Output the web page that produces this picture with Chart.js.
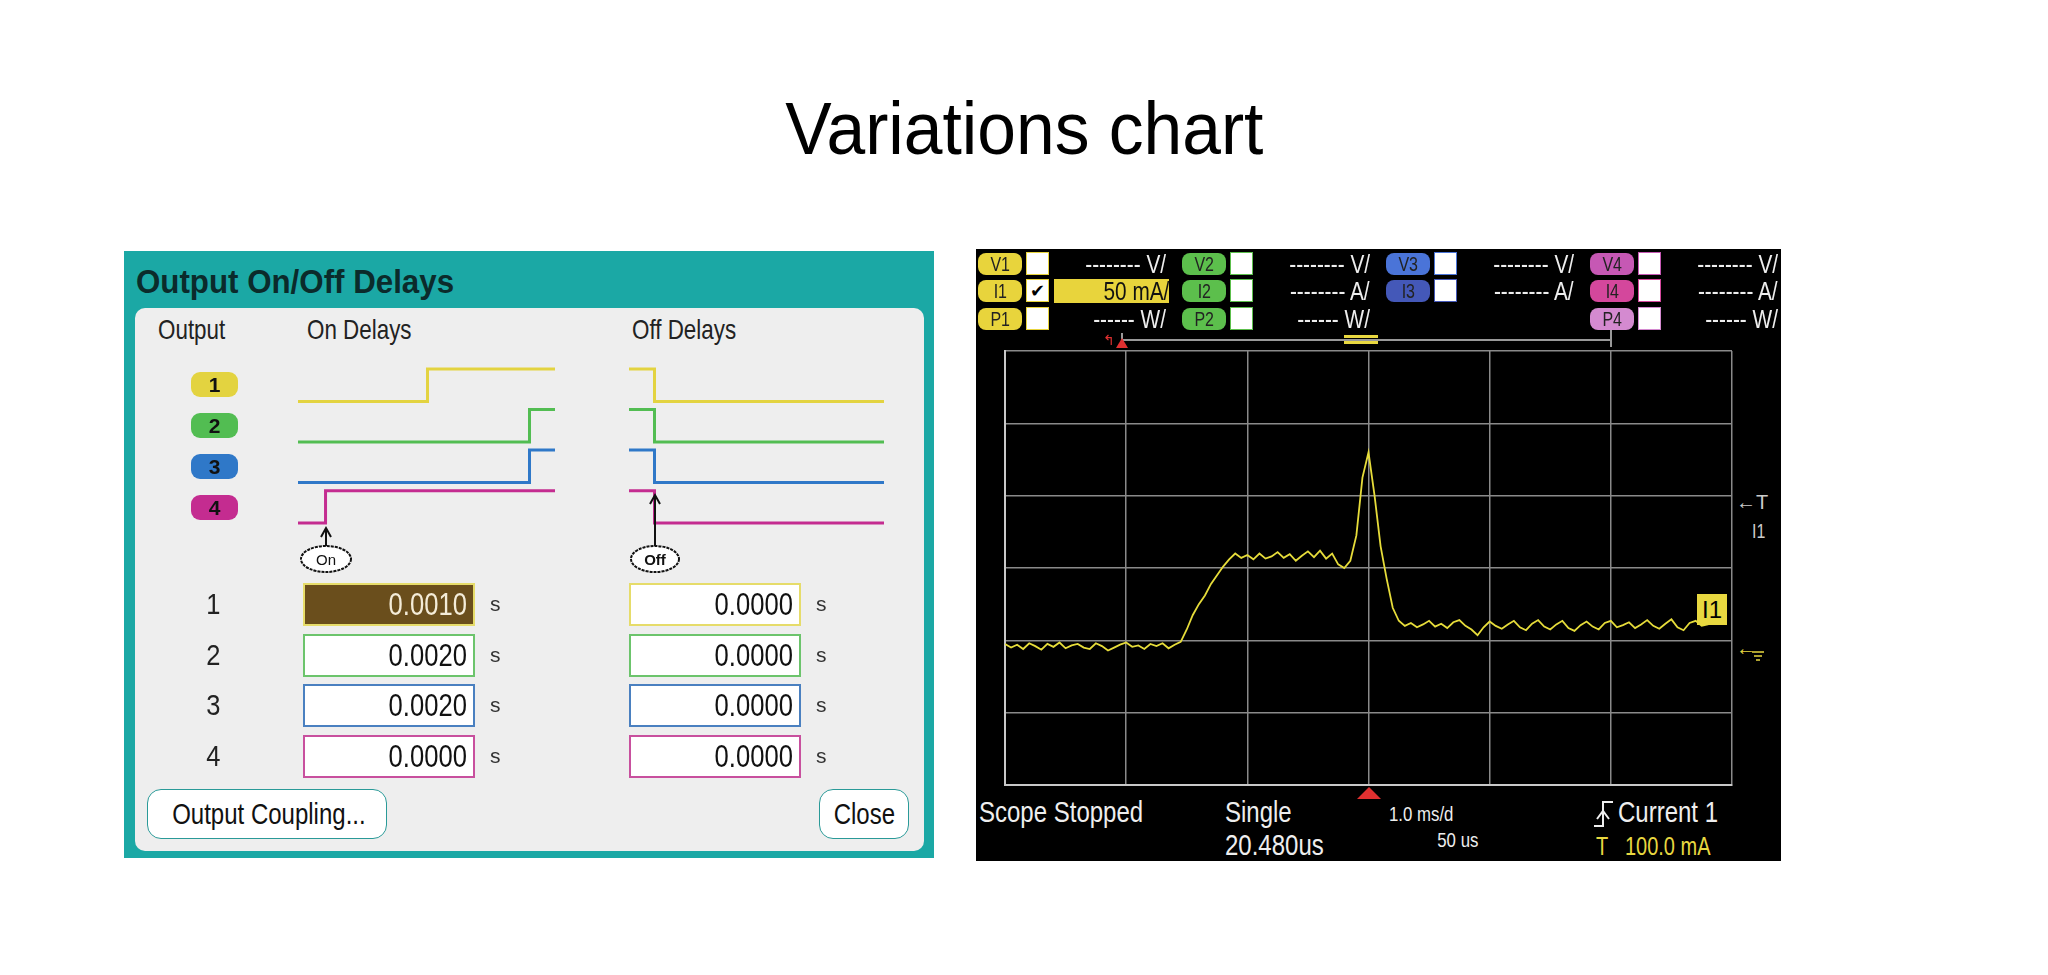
<!DOCTYPE html>
<html>
<head>
<meta charset="utf-8">
<script src="https://cdn.jsdelivr.net/npm/chart.js@4/dist/chart.umd.min.js"></script>
<style>
body{margin:0;width:2048px;height:975px;background:#fff;position:relative;overflow:hidden;font-family:"Liberation Sans",Arial,sans-serif}
.a{position:absolute;white-space:nowrap}
.n{display:inline-block;transform:scaleX(.8);transform-origin:left center}
.r{display:inline-block;transform:scaleX(.8);transform-origin:right center}
canvas{position:absolute}
</style>
</head>
<body>
<div class="a" style="left:0;width:2048px;top:84px;height:90px;line-height:90px;text-align:center;font-size:74px;color:#000"><span style="display:inline-block;transform:scaleX(.94)">Variations chart</span></div>

<!-- dialog -->
<div class="a" style="left:124px;top:251px;width:810px;height:607px;background:#1ba8a5"></div>
<div class="a" style="left:135px;top:308px;width:789px;height:543px;background:#eeeeee;border-radius:10px"></div>
<div class="a" style="left:136px;top:263px;line-height:36px;font-size:34px;font-weight:bold;color:#0b2b2b"><span class="n" style="transform:scaleX(.92)">Output On/Off Delays</span></div>
<div class="a" style="left:158px;top:314px;line-height:32px;font-size:28px;color:#222"><span class="n">Output</span></div>
<div class="a" style="left:307px;top:314px;line-height:32px;font-size:28px;color:#222"><span class="n">On Delays</span></div>
<div class="a" style="left:632px;top:314px;line-height:32px;font-size:28px;color:#222"><span class="n">Off Delays</span></div>
<canvas id="onChart" width="257" height="170" style="left:298px;top:360px"></canvas>
<canvas id="offChart" width="255" height="170" style="left:629px;top:360px"></canvas>
<div class="a" style="left:147px;top:789px;width:238px;height:48px;border:1.5px solid #2a9a98;border-radius:14px;background:#fff;line-height:48px;font-size:30px;color:#111;text-align:center"><span class="n" style="transform-origin:center">Output Coupling...</span></div>
<div class="a" style="left:819px;top:789px;width:88px;height:48px;border:1.5px solid #2a9a98;border-radius:14px;background:#fff;line-height:48px;font-size:30px;color:#111;text-align:center"><span class="n" style="transform-origin:center">Close</span></div>

<!-- scope -->
<div class="a" style="left:976px;top:249px;width:805px;height:612px;background:#000"></div>
<canvas id="scopeChart" width="729" height="436" style="left:1004px;top:350px"></canvas>
<div class="a" style="left:979px;top:795px;line-height:34px;font-size:30px;color:#eee"><span class="n">Scope Stopped</span></div>
<div class="a" style="left:1225px;top:795px;line-height:34px;font-size:30px;color:#eee"><span class="n">Single</span></div>
<div class="a" style="left:1225px;top:828px;line-height:34px;font-size:30px;color:#eee"><span class="n">20.480us</span></div>
<div class="a" style="left:1389px;top:802px;line-height:24px;font-size:21px;color:#eee"><span class="n">1.0 ms/d</span></div>
<div class="a" style="left:1378px;width:100px;top:828px;line-height:24px;font-size:21px;color:#eee;text-align:right"><span class="r">50 us</span></div>
<div class="a" style="left:1618px;top:795px;line-height:34px;font-size:30px;color:#eee"><span class="n">Current 1</span></div>
<div class="a" style="left:1596px;top:832px;line-height:28px;font-size:25px;color:#e8d840"><span class="n">T&nbsp;&nbsp;&nbsp;100.0 mA</span></div>
<div class="a" style="left:1736px;top:490px;line-height:24px;font-size:20px;color:#ccc">←T</div>
<div class="a" style="left:1752px;top:519px;line-height:24px;font-size:20px;color:#ccc"><span class="n">I1</span></div>
<div class="a" style="left:1736px;top:636px;line-height:24px;font-size:20px;color:#e8d840">←</div>
<div class="a" style="left:1697px;top:594px;width:30px;height:31px;background:#e8d840;line-height:31px;font-size:24px;color:#000;text-align:center">I1</div>

<svg class="a" style="left:0;top:0" width="2048" height="975">
  <g stroke="#111" stroke-width="2" fill="none">
    <line x1="326" y1="530" x2="326" y2="546"/><polyline points="321,537 326,528 331,537"/>
    <line x1="655" y1="497" x2="655" y2="546"/><polyline points="650,504 655,495 660,504"/>
    <ellipse cx="326" cy="559" rx="25" ry="13" fill="#fff" stroke-dasharray="3,1"/>
    <ellipse cx="655" cy="559" rx="24" ry="13" fill="#fff" stroke-dasharray="3,1"/>
  </g>
  <text x="326" y="565" font-size="15" text-anchor="middle" fill="#111">On</text>
  <text x="655" y="565" font-size="15" text-anchor="middle" fill="#111" font-weight="bold">Off</text>
  <g stroke="#999" stroke-width="2">
    <line x1="1122" y1="340" x2="1611" y2="340"/>
    <line x1="1122" y1="333" x2="1122" y2="347"/>
    <line x1="1611" y1="320" x2="1611" y2="347"/>
  </g>
  <rect x="1344" y="335" width="34" height="3" fill="#e8d840"/>
  <rect x="1344" y="341" width="34" height="3" fill="#e8d840"/>
  <polygon points="1116,348 1122,338 1128,348" fill="#e03030"/>
  <text x="1103" y="345" font-size="14" fill="#e03030">↰</text>
  <polygon points="1357,799 1369,787 1381,799" fill="#e03030"/>
  <polyline points="1594,826 1603,826 1603,802 1613,802" stroke="#eee" stroke-width="2" fill="none"/>
  <polyline points="1597,819 1603,811 1609,819" stroke="#eee" stroke-width="2" fill="none"/>
  <g stroke="#e8d840" stroke-width="1.5">
    <line x1="1752" y1="652" x2="1764" y2="652"/><line x1="1754" y1="656" x2="1762" y2="656"/><line x1="1756" y1="660" x2="1760" y2="660"/>
  </g>
</svg>

<script>
// dialog data
const outputs = ["1", "2", "3", "4"];
const outColors = ["#e3d340", "#52bd52", "#2f78c8", "#c42c90"];
const boxBorders = ["#e6dc6a", "#6cc46c", "#4a80c0", "#c8509e"];
const onDelays = [0.001, 0.002, 0.002, 0.0];
const offDelays = [0.0, 0.0, 0.0, 0.0];
const badgeY = [384, 425, 466, 507];
const rowY = [604, 655, 705, 756];

// scope trace: time (div) and current (div from bottom)
const times = [
    0, 0.05, 0.1, 0.15, 0.2, 0.25, 0.3, 0.35, 0.4, 0.45,
    0.5, 0.55, 0.6, 0.65, 0.7, 0.75, 0.8, 0.85, 0.9, 0.95,
    1.0, 1.05, 1.1, 1.15, 1.2, 1.25, 1.3, 1.35, 1.4, 1.45,
    1.5, 1.55, 1.6, 1.65, 1.7, 1.75, 1.8, 1.85, 1.9, 1.95,
    2.0, 2.05, 2.1, 2.15, 2.2, 2.25, 2.3, 2.35, 2.4, 2.45,
    2.5, 2.55, 2.6, 2.65, 2.7, 2.75, 2.8, 2.85, 2.9, 2.95,
    3.0, 3.05, 3.1, 3.15, 3.2, 3.25, 3.3, 3.35, 3.4, 3.45,
    3.5, 3.55, 3.6, 3.65, 3.7, 3.75, 3.8, 3.85, 3.9, 3.95,
    4.0, 4.05, 4.1, 4.15, 4.2, 4.25, 4.3, 4.35, 4.4, 4.45,
    4.5, 4.55, 4.6, 4.65, 4.7, 4.75, 4.8, 4.85, 4.9, 4.95,
    5.0, 5.05, 5.1, 5.15, 5.2, 5.25, 5.3, 5.35, 5.4, 5.45,
    5.5, 5.55, 5.6, 5.65, 5.7, 5.75, 5.8, 5.85, 5.9, 5.95
];
const current = [
    1.95, 1.90, 1.94, 1.88, 1.96, 1.92, 1.87, 1.95, 1.91, 1.97,
    1.89, 1.93, 1.95, 1.90, 1.88, 1.96, 1.92, 1.86, 1.90, 1.94,
    1.97, 1.91, 1.93, 1.88, 1.95, 1.92, 1.96, 1.89, 1.94, 1.98,
    2.15, 2.35, 2.50, 2.62, 2.78, 2.90, 3.02, 3.12, 3.20, 3.14,
    3.18, 3.12, 3.20, 3.13, 3.16, 3.22, 3.14, 3.19, 3.10, 3.17,
    3.23, 3.15, 3.24, 3.13, 3.20, 3.05, 3.00, 3.10, 3.45, 4.25,
    4.60, 4.00, 3.30, 2.85, 2.45, 2.27, 2.20, 2.24, 2.18, 2.22,
    2.27, 2.19, 2.23, 2.17, 2.25, 2.28, 2.20, 2.15, 2.07, 2.18,
    2.26, 2.20, 2.16, 2.22, 2.27, 2.18, 2.14, 2.23, 2.28, 2.19,
    2.15, 2.22, 2.27, 2.17, 2.13, 2.21, 2.26, 2.19, 2.15, 2.24,
    2.27, 2.18, 2.21, 2.25, 2.17, 2.22, 2.28, 2.20, 2.16, 2.23,
    2.29, 2.18, 2.14, 2.24, 2.27, 2.20, 2.22, 2.25, 2.23, 2.26
];

function el(html) {
    const d = document.createElement("div");
    d.innerHTML = html;
    document.body.appendChild(d.firstElementChild);
}

outputs.forEach((o, i) => {
    el(`<div class="a" style="left:191px;top:${badgeY[i] - 12}px;width:47px;height:25px;border-radius:9px;background:${outColors[i]};text-align:center;line-height:25px;font-size:21px;font-weight:bold;color:#111">${o}</div>`);
    el(`<div class="a" style="left:203px;top:${rowY[i] - 17}px;width:20px;text-align:center;line-height:34px;font-size:30px;color:#222"><span class="n" style="transform:scaleX(.85);transform-origin:center">${o}</span></div>`);
    const sel = i === 0;
    el(`<div class="a" style="left:303px;top:${rowY[i] - 21}px;width:168px;height:39px;border:2px solid ${boxBorders[i]};background:${sel ? "#6a4e1c" : "#fff"};text-align:right;line-height:39px;font-size:32px;color:${sel ? "#f4ecd8" : "#111"}"><span class="r" style="margin-right:6px">${onDelays[i].toFixed(4)}</span></div>`);
    el(`<div class="a" style="left:629px;top:${rowY[i] - 21}px;width:168px;height:39px;border:2px solid ${boxBorders[i]};background:#fff;text-align:right;line-height:39px;font-size:32px;color:#111"><span class="r" style="margin-right:6px">${offDelays[i].toFixed(4)}</span></div>`);
    el(`<div class="a" style="left:490px;top:${rowY[i] - 12}px;line-height:24px;font-size:21px;color:#333">s</div>`);
    el(`<div class="a" style="left:816px;top:${rowY[i] - 12}px;line-height:24px;font-size:21px;color:#333">s</div>`);
});

// scope header
const hdrCols = [978, 1182, 1386, 1590];
const hdrRows = [264, 291, 319];
const hdrCells = [
    [["V1", "#e8d43c"], ["V2", "#5cbf4c"], ["V3", "#4a74d8"], ["V4", "#c658b4"]],
    [["I1", "#e8d43c"], ["I2", "#5cbf4c"], ["I3", "#4458b8"], ["I4", "#d4479c"]],
    [["P1", "#e8d43c"], ["P2", "#5cbf4c"], null, ["P4", "#d48ad0"]]
];
const hdrUnits = ["-------- V/", "-------- A/", "------ W/"];
hdrCells.forEach((row, r) => {
    row.forEach((c, k) => {
        if (!c) return;
        const x = hdrCols[k], y = hdrRows[r];
        el(`<div class="a" style="left:${x}px;top:${y - 11}px;width:44px;height:22px;border-radius:8px;background:${c[1]};text-align:center;line-height:22px;font-size:20px;color:#222"><span class="n" style="transform-origin:center">${c[0]}</span></div>`);
        el(`<div class="a" style="left:${x + 48}px;top:${y - 12}px;width:21px;height:21px;background:#fff;border:1.5px solid ${c[1]};text-align:center;line-height:22px;font-size:18px;color:#000">${r === 1 && k === 0 ? "✔" : ""}</div>`);
        if (r === 1 && k === 0) {
            el(`<div class="a" style="left:${x + 76}px;top:${y - 12}px;width:115px;height:24px;background:#e8d43c;text-align:right;line-height:24px;font-size:26px;color:#111"><span class="r">50 mA/</span></div>`);
        } else {
            el(`<div class="a" style="left:${x + 70}px;width:118px;top:${y - 12}px;text-align:right;line-height:24px;font-size:26px;color:#eee"><span class="r">${hdrUnits[r]}</span></div>`);
        }
    });
});

// step diagrams
const stepHigh = 0.8;
function stepSets(delays, rising, tStart, tEnd) {
    return delays.map((d, i) => {
        const low = -i, high = -i + stepHigh;
        const a = rising ? low : high, b = rising ? high : low;
        const t = d * 1000;
        return {
            data: [{ x: tStart, y: a }, { x: t, y: a }, { x: t, y: b }, { x: tEnd, y: b }],
            borderColor: outColors[i],
            borderWidth: 3,
            pointRadius: 0,
        };
    });
}
function stepChart(id, sets, tMin, tMax) {
    new Chart(document.getElementById(id), {
        type: "line",
        data: { datasets: sets },
        options: {
            responsive: false, animation: false, devicePixelRatio: 1,
            layout: { padding: 0 },
            plugins: { legend: { display: false }, tooltip: { enabled: false } },
            scales: {
                x: { type: "linear", min: tMin, max: tMax, display: false },
                y: { min: -3.17, max: 1.02, display: false },
            },
        },
    });
}
stepChart("onChart", stepSets(onDelays, true, -0.27, 2.25), -0.27, 2.25);
stepChart("offChart", stepSets(offDelays, false, -0.25, 2.25), -0.25, 2.25);

// scope
new Chart(document.getElementById("scopeChart"), {
    type: "line",
    data: {
        datasets: [{
            data: times.map((t, i) => ({ x: t, y: current[i] })),
            borderColor: "#e6dc3a",
            borderWidth: 1.8,
            pointRadius: 0,
            tension: 0,
        }],
    },
    options: {
        responsive: false, animation: false, devicePixelRatio: 1,
        layout: { padding: 1 },
        plugins: { legend: { display: false }, tooltip: { enabled: false } },
        scales: {
            x: {
                type: "linear", min: 0, max: 6,
                ticks: { display: false, stepSize: 1 },
                grid: { color: "#8a8a8a", lineWidth: 1.5, drawTicks: false },
                border: { color: "#c8c8c8", width: 2 },
            },
            y: {
                min: 0, max: 6,
                ticks: { display: false, stepSize: 1 },
                grid: { color: "#8a8a8a", lineWidth: 1.5, drawTicks: false },
                border: { color: "#c8c8c8", width: 2 },
            },
        },
    },
});
</script>
</body>
</html>
